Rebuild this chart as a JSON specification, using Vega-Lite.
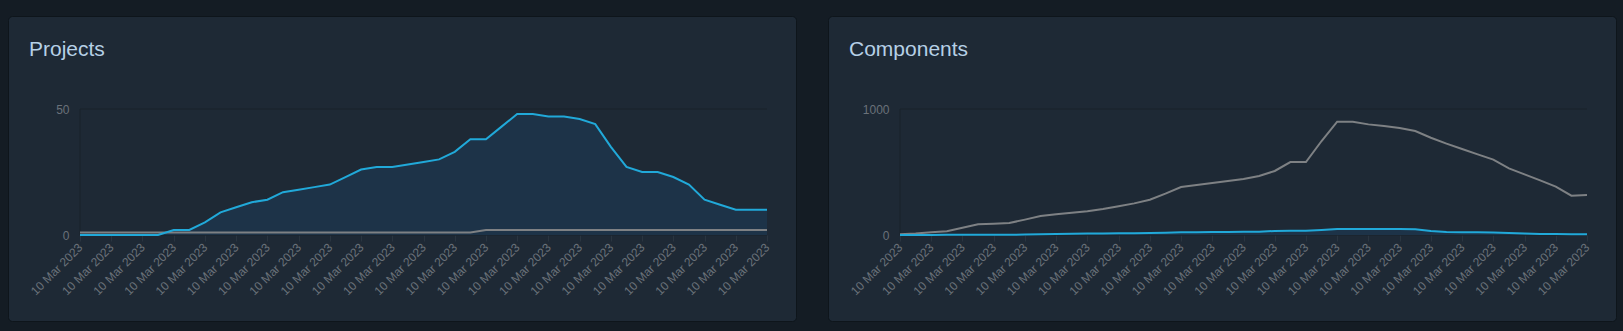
{
  "$schema": "https://vega.github.io/schema/vega-lite/v6.json",
  "background": "#141c24",
  "padding": {"left": 7, "top": 15, "right": 7, "bottom": 11},
  "autosize": {"type": "pad"},
  "spacing": 32,
  "bounds": "flush",
  "config": {
    "font": "Liberation Sans",
    "view": {"fill": "#1e2935", "stroke": "#0e151b", "strokeWidth": 1, "cornerRadius": 4},
    "title": {"font": "Liberation Sans", "fontSize": 21, "fontWeight": "normal", "color": "#b6d0e6", "anchor": "start", "frame": "group", "baseline": "alphabetic", "offset": 0, "dx": 21, "dy": 48},
    "axis": {"labelFont": "Liberation Sans", "labelFontSize": 12, "labelColor": "#6a7179", "domainColor": "#18222b", "tickColor": "#2a3540", "gridColor": "#18222b"}
  },
  "datasets": {
    "projects": [
      {"time": "2023-03-10T00:00:00", "vulnerable": 0, "total": 1},
      {"time": "2023-03-10T00:30:00", "vulnerable": 0, "total": 1},
      {"time": "2023-03-10T01:00:00", "vulnerable": 0, "total": 1},
      {"time": "2023-03-10T01:30:00", "vulnerable": 0, "total": 1},
      {"time": "2023-03-10T02:00:00", "vulnerable": 0, "total": 1},
      {"time": "2023-03-10T02:30:00", "vulnerable": 0, "total": 1},
      {"time": "2023-03-10T03:00:00", "vulnerable": 2, "total": 1},
      {"time": "2023-03-10T03:30:00", "vulnerable": 2, "total": 1},
      {"time": "2023-03-10T04:00:00", "vulnerable": 5, "total": 1},
      {"time": "2023-03-10T04:30:00", "vulnerable": 9, "total": 1},
      {"time": "2023-03-10T05:00:00", "vulnerable": 11, "total": 1},
      {"time": "2023-03-10T05:30:00", "vulnerable": 13, "total": 1},
      {"time": "2023-03-10T06:00:00", "vulnerable": 14, "total": 1},
      {"time": "2023-03-10T06:30:00", "vulnerable": 17, "total": 1},
      {"time": "2023-03-10T07:00:00", "vulnerable": 18, "total": 1},
      {"time": "2023-03-10T07:30:00", "vulnerable": 19, "total": 1},
      {"time": "2023-03-10T08:00:00", "vulnerable": 20, "total": 1},
      {"time": "2023-03-10T08:30:00", "vulnerable": 23, "total": 1},
      {"time": "2023-03-10T09:00:00", "vulnerable": 26, "total": 1},
      {"time": "2023-03-10T09:30:00", "vulnerable": 27, "total": 1},
      {"time": "2023-03-10T10:00:00", "vulnerable": 27, "total": 1},
      {"time": "2023-03-10T10:30:00", "vulnerable": 28, "total": 1},
      {"time": "2023-03-10T11:00:00", "vulnerable": 29, "total": 1},
      {"time": "2023-03-10T11:30:00", "vulnerable": 30, "total": 1},
      {"time": "2023-03-10T12:00:00", "vulnerable": 33, "total": 1},
      {"time": "2023-03-10T12:30:00", "vulnerable": 38, "total": 1},
      {"time": "2023-03-10T13:00:00", "vulnerable": 38, "total": 2},
      {"time": "2023-03-10T13:30:00", "vulnerable": 43, "total": 2},
      {"time": "2023-03-10T14:00:00", "vulnerable": 48, "total": 2},
      {"time": "2023-03-10T14:30:00", "vulnerable": 48, "total": 2},
      {"time": "2023-03-10T15:00:00", "vulnerable": 47, "total": 2},
      {"time": "2023-03-10T15:30:00", "vulnerable": 47, "total": 2},
      {"time": "2023-03-10T16:00:00", "vulnerable": 46, "total": 2},
      {"time": "2023-03-10T16:30:00", "vulnerable": 44, "total": 2},
      {"time": "2023-03-10T17:00:00", "vulnerable": 35, "total": 2},
      {"time": "2023-03-10T17:30:00", "vulnerable": 27, "total": 2},
      {"time": "2023-03-10T18:00:00", "vulnerable": 25, "total": 2},
      {"time": "2023-03-10T18:30:00", "vulnerable": 25, "total": 2},
      {"time": "2023-03-10T19:00:00", "vulnerable": 23, "total": 2},
      {"time": "2023-03-10T19:30:00", "vulnerable": 20, "total": 2},
      {"time": "2023-03-10T20:00:00", "vulnerable": 14, "total": 2},
      {"time": "2023-03-10T20:30:00", "vulnerable": 12, "total": 2},
      {"time": "2023-03-10T21:00:00", "vulnerable": 10, "total": 2},
      {"time": "2023-03-10T21:30:00", "vulnerable": 10, "total": 2},
      {"time": "2023-03-10T22:00:00", "vulnerable": 10, "total": 2}
    ],
    "components": [
      {"time": "2023-03-10T00:00:00", "vulnerable": 0, "total": 5},
      {"time": "2023-03-10T00:30:00", "vulnerable": 0, "total": 11},
      {"time": "2023-03-10T01:00:00", "vulnerable": 0, "total": 21},
      {"time": "2023-03-10T01:30:00", "vulnerable": 1, "total": 29},
      {"time": "2023-03-10T02:00:00", "vulnerable": 1, "total": 58},
      {"time": "2023-03-10T02:30:00", "vulnerable": 2, "total": 85},
      {"time": "2023-03-10T03:00:00", "vulnerable": 2, "total": 90},
      {"time": "2023-03-10T03:30:00", "vulnerable": 2, "total": 95},
      {"time": "2023-03-10T04:00:00", "vulnerable": 3, "total": 122},
      {"time": "2023-03-10T04:30:00", "vulnerable": 5, "total": 151},
      {"time": "2023-03-10T05:00:00", "vulnerable": 8, "total": 164},
      {"time": "2023-03-10T05:30:00", "vulnerable": 9, "total": 177},
      {"time": "2023-03-10T06:00:00", "vulnerable": 11, "total": 188},
      {"time": "2023-03-10T06:30:00", "vulnerable": 12, "total": 206},
      {"time": "2023-03-10T07:00:00", "vulnerable": 13, "total": 228},
      {"time": "2023-03-10T07:30:00", "vulnerable": 14, "total": 251},
      {"time": "2023-03-10T08:00:00", "vulnerable": 16, "total": 280},
      {"time": "2023-03-10T08:30:00", "vulnerable": 18, "total": 328},
      {"time": "2023-03-10T09:00:00", "vulnerable": 21, "total": 381},
      {"time": "2023-03-10T09:30:00", "vulnerable": 22, "total": 397},
      {"time": "2023-03-10T10:00:00", "vulnerable": 24, "total": 413},
      {"time": "2023-03-10T10:30:00", "vulnerable": 24, "total": 429},
      {"time": "2023-03-10T11:00:00", "vulnerable": 25, "total": 444},
      {"time": "2023-03-10T11:30:00", "vulnerable": 26, "total": 468},
      {"time": "2023-03-10T12:00:00", "vulnerable": 32, "total": 508},
      {"time": "2023-03-10T12:30:00", "vulnerable": 34, "total": 579},
      {"time": "2023-03-10T13:00:00", "vulnerable": 34, "total": 579},
      {"time": "2023-03-10T13:30:00", "vulnerable": 40, "total": 746},
      {"time": "2023-03-10T14:00:00", "vulnerable": 48, "total": 899},
      {"time": "2023-03-10T14:30:00", "vulnerable": 48, "total": 899},
      {"time": "2023-03-10T15:00:00", "vulnerable": 48, "total": 878},
      {"time": "2023-03-10T15:30:00", "vulnerable": 48, "total": 865},
      {"time": "2023-03-10T16:00:00", "vulnerable": 48, "total": 849},
      {"time": "2023-03-10T16:30:00", "vulnerable": 45, "total": 825},
      {"time": "2023-03-10T17:00:00", "vulnerable": 32, "total": 772},
      {"time": "2023-03-10T17:30:00", "vulnerable": 24, "total": 725},
      {"time": "2023-03-10T18:00:00", "vulnerable": 21, "total": 683},
      {"time": "2023-03-10T18:30:00", "vulnerable": 21, "total": 640},
      {"time": "2023-03-10T19:00:00", "vulnerable": 20, "total": 598},
      {"time": "2023-03-10T19:30:00", "vulnerable": 16, "total": 529},
      {"time": "2023-03-10T20:00:00", "vulnerable": 11, "total": 481},
      {"time": "2023-03-10T20:30:00", "vulnerable": 8, "total": 434},
      {"time": "2023-03-10T21:00:00", "vulnerable": 7, "total": 384},
      {"time": "2023-03-10T21:30:00", "vulnerable": 6, "total": 312},
      {"time": "2023-03-10T22:00:00", "vulnerable": 6, "total": 317}
    ]
  },
  "hconcat": [
    {
      "title": "Projects",
      "width": 788,
      "height": 305,
      "data": {"name": "projects"},
      "encoding": {
        "x": {
          "field": "time", "type": "temporal", "title": null,
          "scale": {"domain": [{"year": 2023, "month": 3, "date": 9, "hours": 21, "minutes": 41, "seconds": 39}, {"year": 2023, "month": 3, "date": 10, "hours": 22, "minutes": 55, "seconds": 43}], "nice": false},
          "axis": {"offset": -86, "format": "%d %b %Y", "values": [
            {"year": 2023, "month": 3, "date": 10, "hours": 0}, {"year": 2023, "month": 3, "date": 10, "hours": 1}, {"year": 2023, "month": 3, "date": 10, "hours": 2}, {"year": 2023, "month": 3, "date": 10, "hours": 3}, {"year": 2023, "month": 3, "date": 10, "hours": 4}, {"year": 2023, "month": 3, "date": 10, "hours": 5}, {"year": 2023, "month": 3, "date": 10, "hours": 6}, {"year": 2023, "month": 3, "date": 10, "hours": 7}, {"year": 2023, "month": 3, "date": 10, "hours": 8}, {"year": 2023, "month": 3, "date": 10, "hours": 9}, {"year": 2023, "month": 3, "date": 10, "hours": 10}, {"year": 2023, "month": 3, "date": 10, "hours": 11}, {"year": 2023, "month": 3, "date": 10, "hours": 12}, {"year": 2023, "month": 3, "date": 10, "hours": 13}, {"year": 2023, "month": 3, "date": 10, "hours": 14}, {"year": 2023, "month": 3, "date": 10, "hours": 15}, {"year": 2023, "month": 3, "date": 10, "hours": 16}, {"year": 2023, "month": 3, "date": 10, "hours": 17}, {"year": 2023, "month": 3, "date": 10, "hours": 18}, {"year": 2023, "month": 3, "date": 10, "hours": 19}, {"year": 2023, "month": 3, "date": 10, "hours": 20}, {"year": 2023, "month": 3, "date": 10, "hours": 21}, {"year": 2023, "month": 3, "date": 10, "hours": 22}],
            "labelAngle": -45, "labelAlign": "right", "labelBaseline": "middle", "labelOverlap": false, "labelPadding": 4, "tickSize": 6, "grid": false, "domain": false, "labelFlush": false}
        }
      },
      "layer": [
        {
          "mark": {"type": "rule", "color": "#18222b", "strokeWidth": 1},
          "encoding": {
            "x": {"aggregate": "min", "field": "time", "type": "temporal", "title": null},
            "x2": {"aggregate": "max", "field": "time"},
            "y": {"datum": 50, "type": "quantitative", "title": null, "scale": {"domain": [0, 50], "range": [219, 93], "nice": false}, "axis": {"offset": -72, "values": [0, 50], "ticks": false, "labelPadding": 11, "grid": false, "domain": false}}
          }
        },
        {
          "mark": {"type": "rule", "color": "#18222b", "strokeWidth": 1},
          "encoding": {
            "x": {"aggregate": "min", "field": "time", "type": "temporal", "title": null},
            "x2": {"aggregate": "max", "field": "time"},
            "y": {"datum": 0, "type": "quantitative", "title": null}
          }
        },
        {
          "mark": {"type": "rule", "color": "#18222b", "strokeWidth": 1},
          "encoding": {
            "x": {"aggregate": "min", "field": "time", "type": "temporal", "title": null},
            "y": {"datum": 0, "type": "quantitative", "title": null},
            "y2": {"datum": 50}
          }
        },
        {
          "mark": {"type": "area", "color": "#1d3348", "opacity": 1},
          "encoding": {"y": {"field": "vulnerable", "type": "quantitative", "title": null}}
        },
        {
          "mark": {"type": "line", "color": "#7e8184", "strokeWidth": 2},
          "encoding": {"y": {"field": "total", "type": "quantitative", "title": null}}
        },
        {
          "mark": {"type": "line", "color": "#21a9d9", "strokeWidth": 2},
          "encoding": {"y": {"field": "vulnerable", "type": "quantitative", "title": null}}
        }
      ]
    },
    {
      "title": "Components",
      "width": 788,
      "height": 305,
      "data": {"name": "components"},
      "encoding": {
        "x": {
          "field": "time", "type": "temporal", "title": null,
          "scale": {"domain": [{"year": 2023, "month": 3, "date": 9, "hours": 21, "minutes": 41, "seconds": 39}, {"year": 2023, "month": 3, "date": 10, "hours": 22, "minutes": 55, "seconds": 43}], "nice": false},
          "axis": {"offset": -86, "format": "%d %b %Y", "values": [
            {"year": 2023, "month": 3, "date": 10, "hours": 0}, {"year": 2023, "month": 3, "date": 10, "hours": 1}, {"year": 2023, "month": 3, "date": 10, "hours": 2}, {"year": 2023, "month": 3, "date": 10, "hours": 3}, {"year": 2023, "month": 3, "date": 10, "hours": 4}, {"year": 2023, "month": 3, "date": 10, "hours": 5}, {"year": 2023, "month": 3, "date": 10, "hours": 6}, {"year": 2023, "month": 3, "date": 10, "hours": 7}, {"year": 2023, "month": 3, "date": 10, "hours": 8}, {"year": 2023, "month": 3, "date": 10, "hours": 9}, {"year": 2023, "month": 3, "date": 10, "hours": 10}, {"year": 2023, "month": 3, "date": 10, "hours": 11}, {"year": 2023, "month": 3, "date": 10, "hours": 12}, {"year": 2023, "month": 3, "date": 10, "hours": 13}, {"year": 2023, "month": 3, "date": 10, "hours": 14}, {"year": 2023, "month": 3, "date": 10, "hours": 15}, {"year": 2023, "month": 3, "date": 10, "hours": 16}, {"year": 2023, "month": 3, "date": 10, "hours": 17}, {"year": 2023, "month": 3, "date": 10, "hours": 18}, {"year": 2023, "month": 3, "date": 10, "hours": 19}, {"year": 2023, "month": 3, "date": 10, "hours": 20}, {"year": 2023, "month": 3, "date": 10, "hours": 21}, {"year": 2023, "month": 3, "date": 10, "hours": 22}],
            "labelAngle": -45, "labelAlign": "right", "labelBaseline": "middle", "labelOverlap": false, "labelPadding": 4, "tickSize": 6, "grid": false, "domain": false, "labelFlush": false}
        }
      },
      "layer": [
        {
          "mark": {"type": "rule", "color": "#18222b", "strokeWidth": 1},
          "encoding": {
            "x": {"aggregate": "min", "field": "time", "type": "temporal", "title": null},
            "x2": {"aggregate": "max", "field": "time"},
            "y": {"datum": 1000, "type": "quantitative", "title": null, "scale": {"domain": [0, 1000], "range": [219, 93], "nice": false}, "axis": {"offset": -72, "values": [0, 1000], "format": "d", "ticks": false, "labelPadding": 11, "grid": false, "domain": false}}
          }
        },
        {
          "mark": {"type": "rule", "color": "#18222b", "strokeWidth": 1},
          "encoding": {
            "x": {"aggregate": "min", "field": "time", "type": "temporal", "title": null},
            "x2": {"aggregate": "max", "field": "time"},
            "y": {"datum": 0, "type": "quantitative", "title": null}
          }
        },
        {
          "mark": {"type": "rule", "color": "#18222b", "strokeWidth": 1},
          "encoding": {
            "x": {"aggregate": "min", "field": "time", "type": "temporal", "title": null},
            "y": {"datum": 0, "type": "quantitative", "title": null},
            "y2": {"datum": 1000}
          }
        },
        {
          "mark": {"type": "area", "color": "#1d3348", "opacity": 1},
          "encoding": {"y": {"field": "vulnerable", "type": "quantitative", "title": null}}
        },
        {
          "mark": {"type": "line", "color": "#7e8184", "strokeWidth": 2},
          "encoding": {"y": {"field": "total", "type": "quantitative", "title": null}}
        },
        {
          "mark": {"type": "line", "color": "#21a9d9", "strokeWidth": 2},
          "encoding": {"y": {"field": "vulnerable", "type": "quantitative", "title": null}}
        }
      ]
    }
  ]
}
